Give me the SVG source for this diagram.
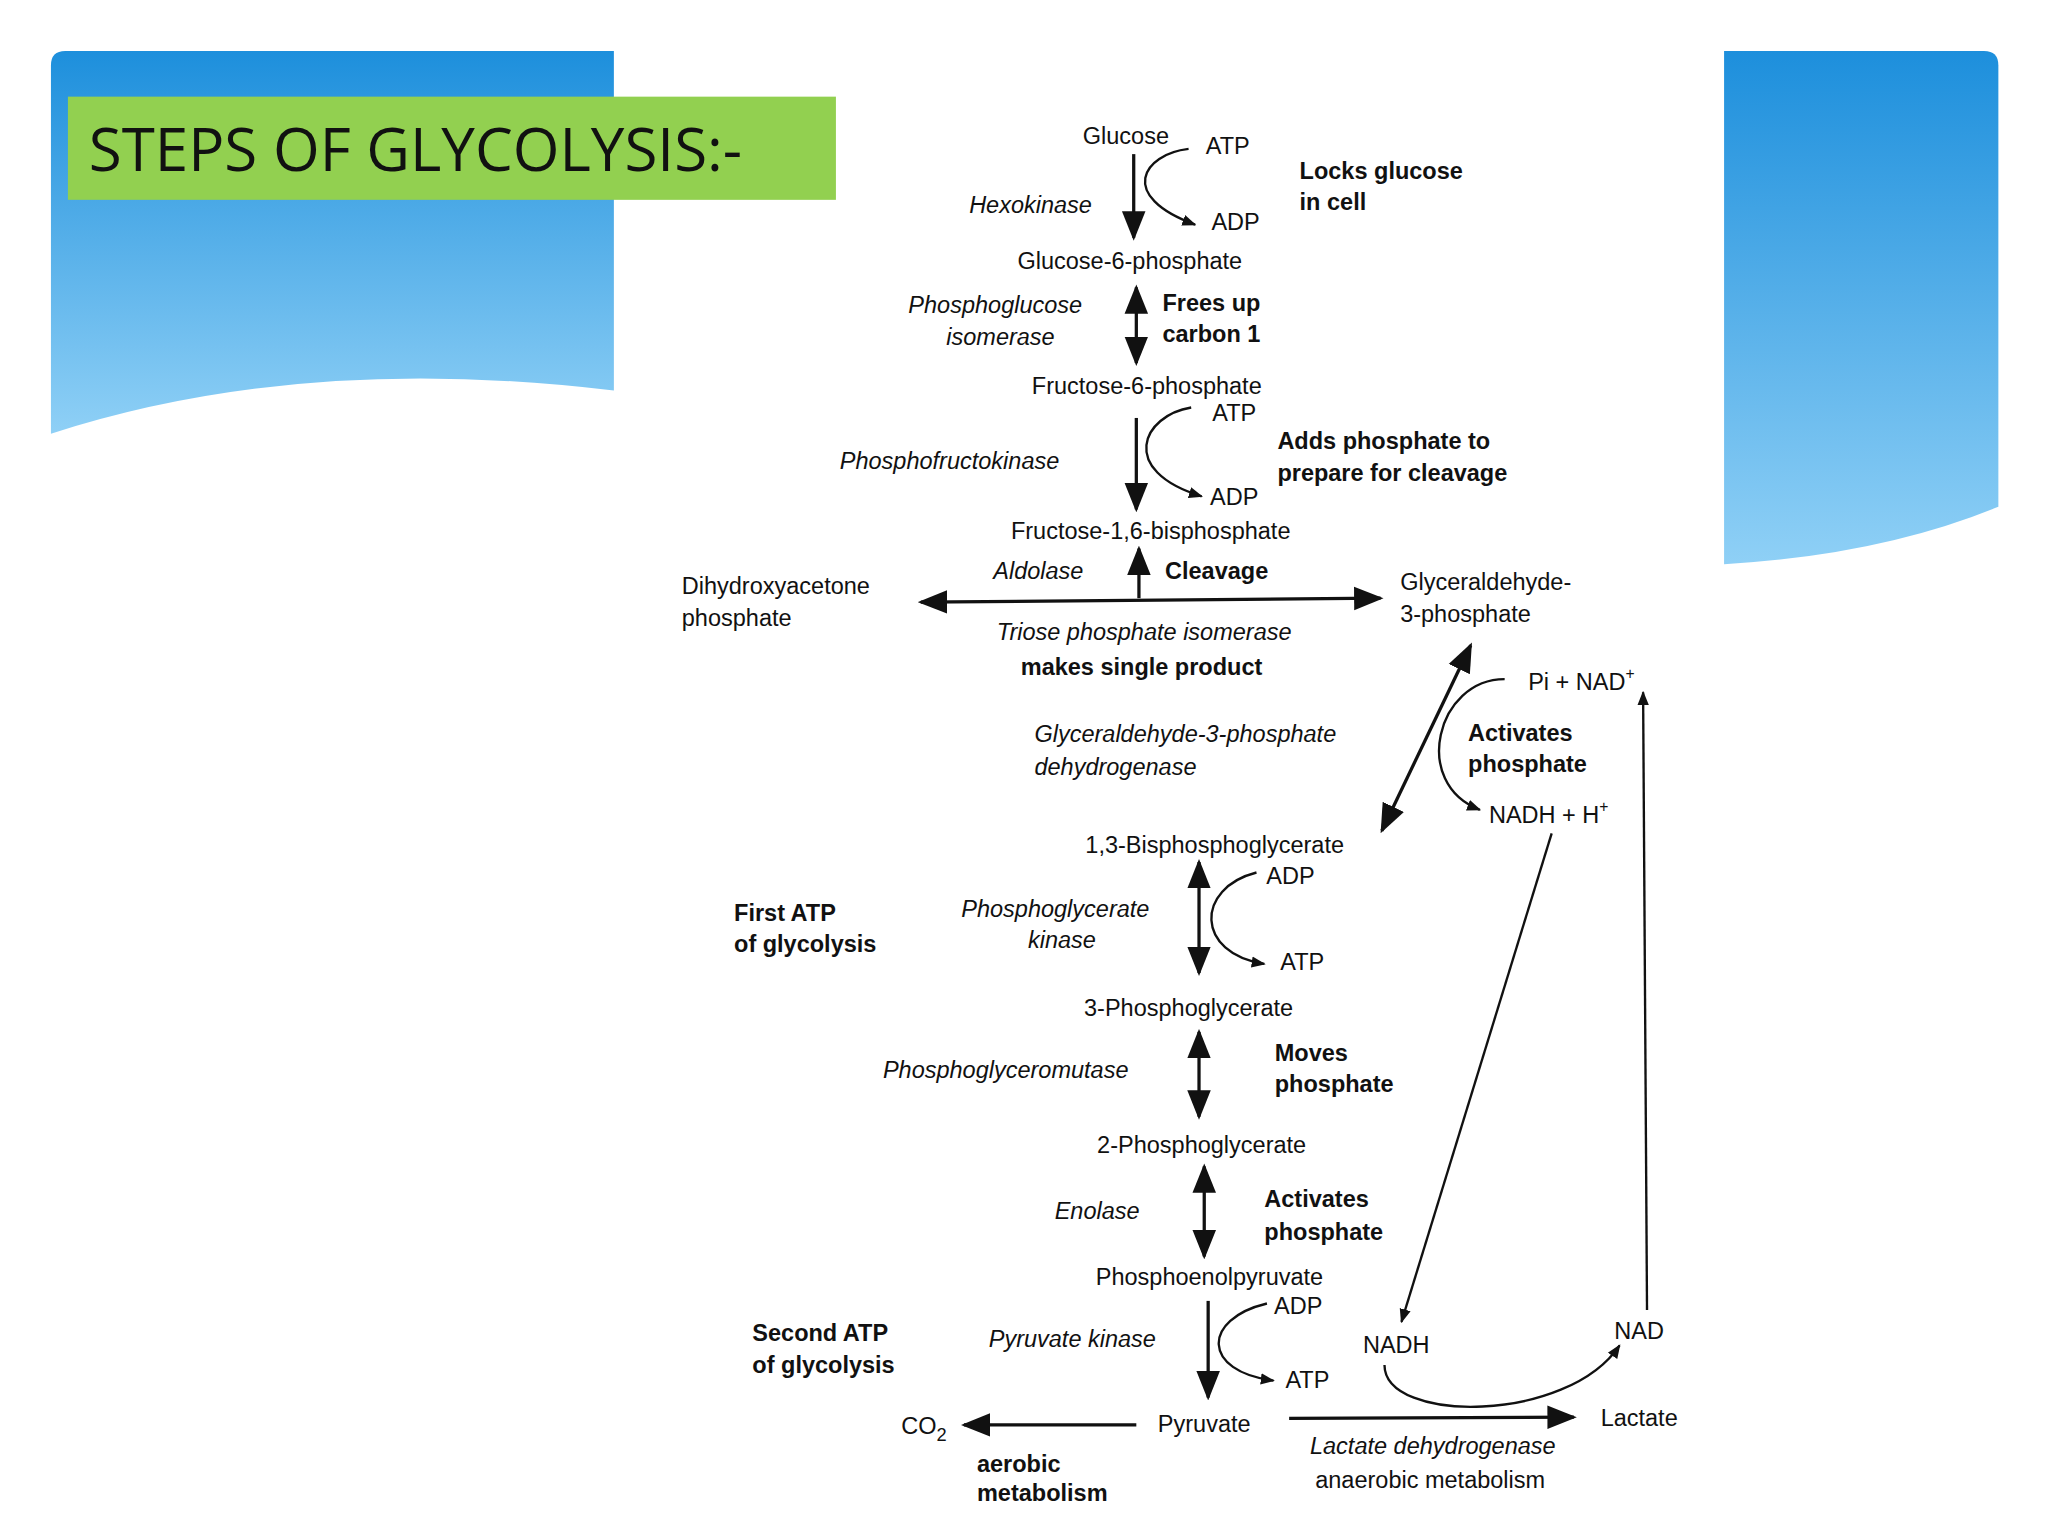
<svg xmlns="http://www.w3.org/2000/svg" width="2048" height="1536" viewBox="0 0 2048 1536">
<defs>
<linearGradient id="bg" x1="0" y1="0" x2="0" y2="1"><stop offset="0" stop-color="#1d8fdc"/><stop offset="1" stop-color="#8fd0f6"/></linearGradient>
<marker id="ah" viewBox="0 0 10 10" refX="9" refY="5" markerWidth="6" markerHeight="6" orient="auto-start-reverse"><path d="M0,1 L10,5 L0,9 z" fill="#111"/></marker>
<marker id="as" viewBox="0 0 10 10" refX="9" refY="5" markerWidth="9" markerHeight="9" orient="auto-start-reverse"><path d="M0,1 L10,5 L0,9 z" fill="#111"/></marker>
</defs>
<style>
text{font-family:"Liberation Sans",Arial,sans-serif;font-size:18px;fill:#111}
.i{font-style:italic}
.b{font-weight:bold}
.c{text-anchor:middle}
.l{fill:none;stroke:#111;stroke-width:2.5}
.t{fill:none;stroke:#111;stroke-width:1.8}
</style>
<rect width="2048" height="1536" fill="#fff"/>
<g transform="scale(1.30612)">
<path d="M39,50 Q39,39 50,39 L470,39 L470,299 Q230,270 39,332 Z" fill="url(#bg)"/>
<path d="M1320,39 L1519,39 Q1530,39 1530,50 L1530,388 Q1440,425 1320,432 Z" fill="url(#bg)"/>
<g id="title"><rect x="52" y="74" width="588" height="79" fill="#92d050"/><text x="68" y="131" style="font-size:46px;font-family:'Open Sans','Liberation Sans',sans-serif">STEPS OF GLYCOLYSIS:-</text></g>
<g id="connectors">
<path class="l" d="M868,118 L868,182" marker-end="url(#as)"/>
<path class="t" d="M910,114 C875,118 855,150 915,172" marker-end="url(#ah)"/>
<path class="l" d="M870,220 L870,278" marker-start="url(#as)" marker-end="url(#as)"/>
<path class="l" d="M870,320 L870,390" marker-end="url(#as)"/>
<path class="t" d="M912,312 C875,318 855,360 920,380" marker-end="url(#ah)"/>
<path class="l" d="M872,458 L872,420" marker-end="url(#as)"/>
<path class="l" d="M705,461 L1057,458" marker-start="url(#as)" marker-end="url(#as)"/>
<path class="l" d="M1126,494 L1058,636" marker-start="url(#as)" marker-end="url(#as)"/>
<path class="t" d="M1152,520 C1100,520 1080,600 1133,620" marker-end="url(#ah)"/>
<path class="l" d="M918,660 L918,745" marker-start="url(#as)" marker-end="url(#as)"/>
<path class="t" d="M962,668 C915,680 915,730 968,738" marker-end="url(#ah)"/>
<path class="l" d="M918,790 L918,855" marker-start="url(#as)" marker-end="url(#as)"/>
<path class="l" d="M922,893 L922,962" marker-start="url(#as)" marker-end="url(#as)"/>
<path class="l" d="M925,996 L925,1070" marker-end="url(#as)"/>
<path class="t" d="M970,998 C920,1010 920,1050 975,1057" marker-end="url(#ah)"/>
<path class="l" d="M870,1091 L738,1091" marker-end="url(#as)"/>
<path class="l" d="M987,1086 L1205,1085" marker-end="url(#as)"/>
<path class="t" d="M1188,638 L1073,1012" marker-end="url(#ah)"/>
<path class="t" d="M1261,1003 L1258,530" marker-end="url(#ah)"/>
<path class="t" d="M1060,1045 C1060,1090 1200,1090 1240,1030" marker-end="url(#ah)"/>
</g>
<g id="n1"><text x="862" y="110" class="c">Glucose</text><text x="940" y="118" class="c">ATP</text><text x="789" y="163" class="c i">Hexokinase</text><text x="946" y="176" class="c">ADP</text><text x="995" y="137" class="b">Locks   glucose</text><text x="995" y="161" class="b">in   cell</text></g>
<g id="n2"><text x="865" y="206" class="c">Glucose-6-phosphate</text><text x="762" y="240" class="c i">Phosphoglucose</text><text x="766" y="264" class="c i">isomerase</text><text x="890" y="238" class="b">Frees   up</text><text x="890" y="262" class="b">carbon   1</text></g>
<g id="n3"><text x="878" y="302" class="c">Fructose-6-phosphate</text><text x="945" y="322" class="c">ATP</text><text x="727" y="359" class="c i">Phosphofructokinase</text><text x="945" y="387" class="c">ADP</text><text x="978" y="344" class="b">Adds   phosphate   to</text><text x="978" y="368" class="b">prepare   for   cleavage</text></g>
<g id="n4"><text x="881" y="413" class="c">Fructose-1,6-bisphosphate</text><text x="795" y="443" class="c i">Aldolase</text><text x="892" y="443" class="b">Cleavage</text></g>
<g id="n5"><text x="522" y="455">Dihydroxyacetone</text><text x="522" y="479">phosphate</text><text x="1072" y="452">Glyceraldehyde-</text><text x="1072" y="476">3-phosphate</text><text x="876" y="490" class="c i">Triose   phosphate   isomerase</text><text x="874" y="517" class="c b">makes   single   product</text></g>
<g id="n6"><text x="1170" y="528">Pi  +  NAD<tspan dy="-8" style="font-size:12px">+</tspan></text><text x="1124" y="567" class="b">Activates</text><text x="1124" y="591" class="b">phosphate</text><text x="792" y="568" class="i">Glyceraldehyde-3-phosphate</text><text x="792" y="593" class="i">dehydrogenase</text><text x="1140" y="630">NADH + H<tspan dy="-8" style="font-size:12px">+</tspan></text></g>
<g id="n7"><text x="930" y="653" class="c">1,3-Bisphosphoglycerate</text><text x="988" y="677" class="c">ADP</text><text x="997" y="743" class="c">ATP</text><text x="562" y="705" class="b">First    ATP</text><text x="562" y="729" class="b">of    glycolysis</text><text x="808" y="702" class="c i">Phosphoglycerate</text><text x="813" y="726" class="c i">kinase</text></g>
<g id="n8"><text x="910" y="778" class="c">3-Phosphoglycerate</text><text x="770" y="825" class="c i">Phosphoglyceromutase</text><text x="976" y="812" class="b">Moves</text><text x="976" y="836" class="b">phosphate</text></g>
<g id="n9"><text x="920" y="883" class="c">2-Phosphoglycerate</text><text x="840" y="933" class="c i">Enolase</text><text x="968" y="924" class="b">Activates</text><text x="968" y="949" class="b">phosphate</text></g>
<g id="n10"><text x="926" y="984" class="c">Phosphoenolpyruvate</text><text x="994" y="1006" class="c">ADP</text><text x="1001" y="1063" class="c">ATP</text><text x="576" y="1027" class="b">Second    ATP</text><text x="576" y="1051" class="b">of    glycolysis</text><text x="821" y="1031" class="c i">Pyruvate   kinase</text></g>
<g id="n11"><text x="922" y="1096" class="c">Pyruvate</text><text x="690" y="1098">CO<tspan dy="5" style="font-size:14px">2</tspan></text><text x="748" y="1127" class="b">aerobic</text><text x="748" y="1149" class="b">metabolism</text></g>
<g id="n12"><text x="1255" y="1092" class="c">Lactate</text><text x="1097" y="1113" class="c i">Lactate   dehydrogenase</text><text x="1095" y="1139" class="c">anaerobic    metabolism</text><text x="1069" y="1036" class="c">NADH</text><text x="1255" y="1025" class="c">NAD</text></g>
</g>
</svg>
